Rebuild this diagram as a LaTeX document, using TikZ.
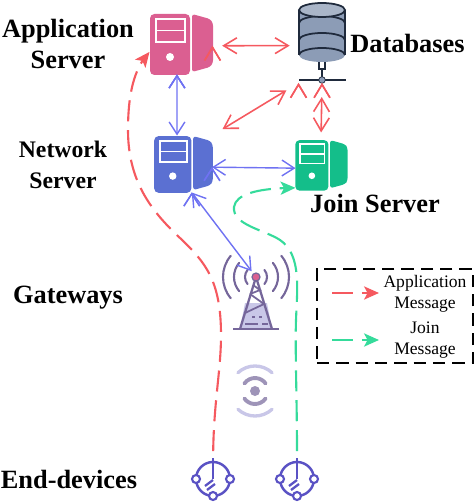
\documentclass[tikz,border=0pt]{standalone}
\usepackage{fontspec}
\setmainfont{Liberation Serif}
\usetikzlibrary{arrows.meta,bending}

\definecolor{appred}{HTML}{F5595F}
\definecolor{linkblue}{HTML}{6F72F2}
\definecolor{joingreen}{HTML}{35DB9B}
\definecolor{ascolor}{HTML}{DB5F91}
\definecolor{nscolor}{HTML}{5B70D2}
\definecolor{jscolor}{HTML}{14BE8A}
\definecolor{dbfill}{HTML}{8C9CB6}
\definecolor{dbline}{HTML}{1F2A3C}
\definecolor{towerline}{HTML}{75669A}
\definecolor{towerfill}{HTML}{C9C7E8}
\definecolor{devline}{HTML}{5A52C4}

\tikzset{
  title/.style={font=\fontsize{15}{18}\selectfont\bfseries,align=center,inner sep=0pt},
  legendtext/.style={font=\fontsize{10}{12}\selectfont,align=center,inner sep=0pt},
  iconbox/.style={inner sep=0pt,outer sep=0pt,minimum width=#1},
  redlink/.style={draw=appred,line width=.9pt,{Straight Barb[length=7.5pt,width=9pt]}-{Straight Barb[length=7.5pt,width=9pt]}},
  bluelink/.style={draw=linkblue,line width=.8pt,{Straight Barb[length=7pt,width=9pt]}-{Straight Barb[length=7pt,width=9pt]}},
  appmsg/.style={draw=appred,line width=1.2pt,dash pattern=on 12pt off 5pt,-{Stealth[length=8.5pt,width=7.5pt,inset=2pt]}},
  joinmsg/.style={draw=joingreen,line width=1.2pt,dash pattern=on 12pt off 5pt,-{Stealth[length=8.5pt,width=7.5pt,inset=2pt]}},
  pics/server/.style={code={
    \fill[#1,rounded corners=2.5pt] (-31,-30) rectangle (9,31);
    \fill[#1,rounded corners=1.5pt] (11,-30) -- (29,-25) -- (32,-21) -- (32,19) -- (29,23) -- (11,28) -- cycle;
    \draw[white,line width=.9pt] (-25,-25) rectangle (4,-2);
    \draw[white,line width=.9pt] (-25,-13.5) -- (4,-13.5);
    \fill[white] (-11,13) circle (4);
  }},
  pics/dbstack/.style={code={
    \fill[dbfill] (-23,-33) rectangle (23,12);
    \fill[dbfill] (0,12) ellipse[x radius=23,y radius=7];
    \draw[dbline,line width=1pt] (-23,-33) -- (-23,12) (23,-33) -- (23,12);
    \foreach \yy in {-20,-3,12} {
      \draw[dbline,line width=1pt] (-23,\yy) arc[start angle=180,end angle=360,x radius=23,y radius=7];
    }
    \draw[dbline,line width=1pt,fill=dbfill!75!white] (0,-33) ellipse[x radius=23,y radius=7];
    \draw[dbline,line width=.7pt] (-3,19) -- (-3,26) -- (3,26) -- (3,19);
    \draw[dbline,line width=.7pt] (0,26) -- (0,37);
    \draw[dbline,line width=.8pt] (-23,37) -- (24,37);
    \draw[dbline,fill=dbfill] (0,37) circle (3.3);
  }},
  pics/tower/.style={code={
    \foreach \rr in {11,22,33} {
      \draw[towerline,line width=1.2pt,line cap=round] (-40:\rr) arc[start angle=-40,end angle=40,radius=\rr];
      \draw[towerline,line width=1.2pt,line cap=round] (140:\rr) arc[start angle=140,end angle=220,radius=\rr];
    }
    \fill[towerfill] (-11,26) -- (11,26) -- (16,52) -- (-16,52) -- cycle;
    \draw[towerline,line width=1.3pt,line join=round] (-16,52) -- (0,0) -- (16,52);
    \draw[towerline,line width=1pt] (-6,17) -- (8,27) -- (-11,36);
    \draw[towerline,line width=1pt] (-3,8) -- (4,13) -- (-6,17);
    \draw[towerline,line width=1pt,dash pattern=on 1.5pt off 2.5pt] (-4,40) -- (9,40);
    \draw[towerline,line width=1pt] (-11,47) -- (2,47) (6,47) -- (12,47);
    \draw[towerline,line width=1.2pt] (-23,52) -- (23,52);
  }},
  pics/wireless/.style={code={
    \fill[towerline!70!white] (0,0) circle (5);
    \foreach \aa in {90,270} {
      \draw[towerline!70!white,line width=2.2pt,line cap=round] (\aa-55:13) arc[start angle=\aa-55,end angle=\aa+55,radius=13];
      \draw[towerfill,line width=1.9pt,line cap=round] (\aa-43:25) arc[start angle=\aa-43,end angle=\aa+43,radius=25];
    }
  }},
  pics/device/.style={code={
    \draw[devline,line width=1.4pt] (0,0) circle (17);
    \foreach \aa in {0,90,180} {
      \draw[devline,line width=1.2pt,fill=white] (\aa:17) circle (4);
    }
    \draw[devline,line width=1.3pt] (0,-21) -- (0,0);
    \draw[devline,line width=1.3pt] (-8,7) -- (0,1) (-6,11) -- (2,5);
  }}
}

\begin{document}
\begin{tikzpicture}[x=0.02cm,y=-0.02cm]
  \useasboundingbox (0,0) rectangle (474,503);

  % icons
  \node[iconbox=1.26cm,minimum height=1.22cm] (AS) at (181,44) {};
  \node[iconbox=.94cm,minimum height=1.6cm] (DB) at (322,43) {};
  \node[iconbox=1.16cm,minimum height=1.14cm] (NS) at (183,164) {};
  \node[iconbox=1.02cm,minimum height=1.02cm] (JS) at (321,165) {};
  \pic at (AS) {server=ascolor};
  \pic at (DB) {dbstack};
  \pic[scale=.93] at (NS) {server=nscolor};
  \pic[scale=.83] at (JS) {server=jscolor};

  \pic at (256,277) {tower};
  \node[circle,inner sep=0pt,minimum size=.16cm,draw=towerline,fill=ascolor,line width=.7pt] (GW) at (256,277) {};
  \node[iconbox=.92cm,minimum height=1cm] (WL) at (255,391) {};
  \pic at (WL) {wireless};
  \node[circle,inner sep=0pt,minimum size=.68cm] (ED1) at (213,479) {};
  \node[circle,inner sep=0pt,minimum size=.68cm] (ED2) at (297,479) {};
  \pic at (ED1) {device};
  \pic at (ED2) {device};

  % labels
  \node[title] (LAS) at (68,44) {Application\\Server};
  \node[title,font=\fontsize{13.5}{18}\selectfont\bfseries] (LNS) at (63,165) {Network\\Server};
  \node[title,anchor=west] (LDB) at (350,43) {Databases};
  \node[title] (LJS) at (375,203) {Join Server};
  \node[title] (LGW) at (68,298) {Gateways};
  \node[title] (LED) at (69,479) {End-devices};

  % links
  \path[redlink] ([yshift=-1pt]AS.east) edge[shorten <=5.5pt,shorten >=5pt] ([yshift=-1.5pt]DB.west);
  \path[redlink] (DB.south west) edge[shorten <=8pt,shorten >=7pt] (NS.north east);
  \path[redlink] (DB.south) edge[shorten <=8pt,shorten >=4pt] (JS.north);
  \path[bluelink] ([xshift=-2.3pt]AS.south) edge ([xshift=-3.4pt]NS.north);
  \path[bluelink] ([yshift=-1.8pt]NS.east) edge ([yshift=-1.8pt]JS.west);
  \path[bluelink] ([xshift=5pt]NS.south) edge[shorten >=1.5pt] (GW);

  % messages
  \draw[appmsg,shorten <=6pt] (ED1.north) .. controls (214,400) and (221,370) .. (221,335)
    .. controls (221,280) and (205,262) .. (180,238)
    .. controls (150,210) and (128,180) .. (128,130)
    .. controls (128,100) and (132,70) .. ([yshift=-4.5pt]AS.west);
  \draw[joinmsg,shorten <=6pt] (ED2.north) .. controls (297,400) and (295,350) .. (296,320)
    .. controls (297,290) and (302,255) .. (280,240)
    .. controls (265,230) and (232,225) .. (234,207)
    .. controls (236,192) and (265,188) .. ([yshift=-13pt]JS.west);

  % legend
  \node[draw,line width=1pt,dash pattern=on 7pt off 4pt,minimum width=3.12cm,minimum height=1.88cm,inner sep=0pt] (LG) at (395,316) {};
  \node[legendtext] (LA) at (425,293.5) {Application\\Message};
  \node[legendtext] (LJ) at (425,340.5) {Join\\Message};
  \coordinate (RS) at (332,293);
  \coordinate (GS) at (332,340);
  \draw[appmsg] (RS) -- (379,293);
  \draw[joinmsg] (GS) -- (379,340);
\end{tikzpicture}
\end{document}
